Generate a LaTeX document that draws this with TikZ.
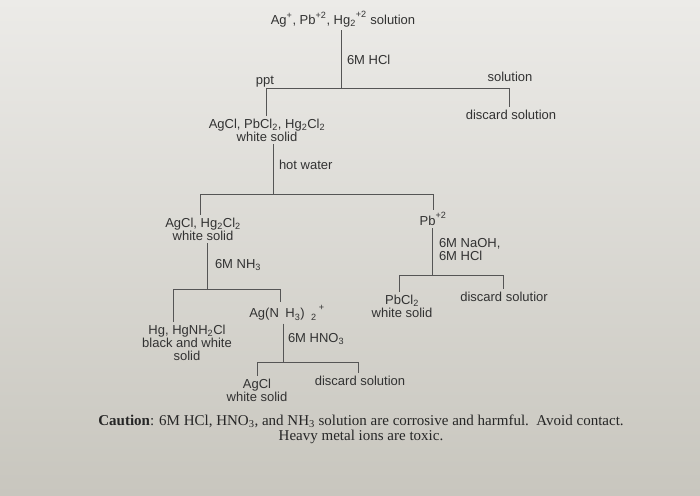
\documentclass[tikz,border=0pt]{standalone}
\usepackage{fontspec}
\setmainfont{Liberation Serif}
\setsansfont{Liberation Sans}
\definecolor{bgtop}{RGB}{236,235,232}
\definecolor{bgbot}{RGB}{200,198,190}
\definecolor{txt}{RGB}{50,50,50}
\definecolor{ln}{RGB}{85,85,85}
\newcommand{\sbs}[1]{\textsubscript{#1}}
\newcommand{\sps}[1]{\textsuperscript{#1}}
\begin{document}
\begin{tikzpicture}[x=1pt,y=-1pt,
  lbl/.style={font=\sffamily\fontsize{13}{13}\selectfont, inner sep=0pt, outer sep=3pt, text=txt, align=center},
  wire/.style={draw=ln, line width=0.9pt}]
\useasboundingbox (0,0) rectangle (700,495);
\shade[top color=bgtop, bottom color=bgbot] (0,0) rectangle (700,495);

% labels
\node[lbl] (title) at (343,19) {Ag\raisebox{2pt}{\sps{+}}, Pb\raisebox{2pt}{\sps{+2}}, Hg\sbs{2}\raisebox{3pt}{\sps{+2}} solution};
\node[lbl, anchor=west] (hcl) at (344,60) {6M HCl};
\node[lbl] (ppt) at (265,82) {ppt};
\node[lbl] (sol) at (510,77) {solution};
\node[lbl] (mix) at (267,130) {AgCl, PbCl\sbs{2}, Hg\sbs{2}Cl\sbs{2}\\white solid};
\node[lbl] (disc1) at (511,115) {discard solution};
\node[lbl, anchor=west] (hot) at (276,165) {hot water};
\node[lbl] (agcl2) at (203,229) {AgCl, Hg\sbs{2}Cl\sbs{2}\\white solid};
\node[lbl] (pb) at (433,219) {Pb\raisebox{2pt}{\sps{+2}}};
\node[lbl, anchor=west, align=left] (naoh) at (436,250) {6M NaOH,\\6M HCl};
\node[lbl, anchor=west] (nh3) at (212,265) {6M NH\sbs{3}};
\node[lbl] (pbcl2) at (402,306) {PbCl\sbs{2}\\white solid};
\node[lbl] (disc2) at (504,297) {discard solutior};
\node[lbl] (agnh) at (287,313) {Ag(N\enspace H\sbs{3})\enspace\sbs{2}\,\raisebox{3pt}{\sps{+}}};
\node[lbl, anchor=west] (hno3) at (285,339) {6M HNO\sbs{3}};
\node[lbl] (hg) at (187,343) {Hg, HgNH\sbs{2}Cl\\black and white\\solid};
\node[lbl] (agcl) at (257,390) {AgCl\\white solid};
\node[lbl] (disc3) at (360,381) {discard solution};
\node[font=\fontsize{15}{15}\selectfont, text=black!85, align=center, inner sep=0pt] (caution) at (361,429)
  {\textbf{Caution}: 6M HCl, HNO\sbs{3}, and NH\sbs{3} solution are corrosive and harmful.\ \ Avoid contact.\\Heavy metal ions are toxic.};

% junctions
\coordinate (j1) at (341,88);  \coordinate (j1l) at (266,88);  \coordinate (j1r) at (509,88);
\coordinate (j2) at (273,194); \coordinate (j2l) at (200,194); \coordinate (j2r) at (433,194);
\coordinate (j3) at (207,289); \coordinate (j3l) at (173,289); \coordinate (j3r) at (280,289);
\coordinate (j4) at (432,275); \coordinate (j4l) at (399,275); \coordinate (j4r) at (503,275);
\coordinate (j5) at (283,362); \coordinate (j5l) at (257,362); \coordinate (j5r) at (358,362);

% connectors
\draw[wire] (j1 |- title.south) -- (j1);
\draw[wire] (j1l |- mix.north) -- (j1l) -- (j1r) -- (j1r |- disc1.north);
\draw[wire] (j2 |- mix.south) -- (j2);
\draw[wire] (j2l |- agcl2.north) -- (j2l) -- (j2r) -- (j2r |- pb.north);
\draw[wire] (j3 |- agcl2.south) -- (j3);
\draw[wire] (j3l |- hg.north) -- (j3l) -- (j3r) -- (j3r |- agnh.north);
\draw[wire] (j4 |- pb.south) -- (j4);
\draw[wire] (j4l |- pbcl2.north) -- (j4l) -- (j4r) -- (j4r |- disc2.north);
\draw[wire] (j5 |- agnh.south) -- (j5);
\draw[wire] (j5l |- agcl.north) -- (j5l) -- (j5r) -- (j5r |- disc3.north);
\end{tikzpicture}
\end{document}
